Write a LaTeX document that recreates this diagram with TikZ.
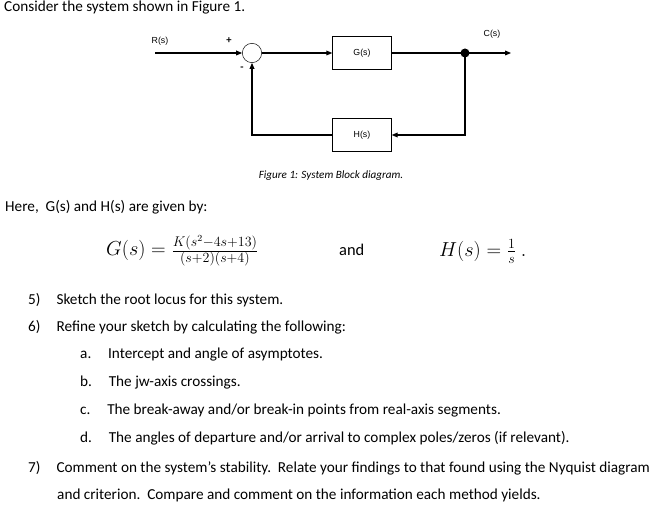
\documentclass[tikz,border=0pt]{standalone}
\usepackage{fontspec}
\setmainfont{Carlito}
\newfontfamily\arialf{Liberation Sans}
\usetikzlibrary{arrows.meta}
\begin{document}
\begin{tikzpicture}[x=0.03cm,y=-0.03cm,
  txt/.style={anchor=west,inner sep=0,font=\fontsize{13}{15}\selectfont},
  blk/.style={draw,minimum width=1.77cm,minimum height=1.0cm,font=\arialf\fontsize{7.5}{8}\selectfont},
  lab/.style={inner sep=0,font=\arialf\fontsize{7.5}{8}\selectfont},
  ar/.style={-{Triangle[length=5pt,width=4pt]},line width=0.9pt},
  ln/.style={line width=0.9pt}]
\useasboundingbox (0,0) rectangle (659,508);
\node[txt] (t0) at (4,8) {Consider the system shown in Figure 1.};
% block diagram
\coordinate (rin) at (155,53);
\node[draw,circle,minimum size=0.58cm,inner sep=0] (sum) at (252,53) {};
\node[blk] (g) at (362,53) {G(s)};
\node[blk,minimum height=1.0cm] (h) at (362,135) {H(s)};
\fill (465,53) circle (4.5) coordinate (dot);
\coordinate (cout) at (511,53);
\node[lab] (r) at (160,41) {R(s)};
\node[lab] (c) at (492,34) {C(s)};
\node[lab,font=\bfseries\small] (plus) at (229,41) {+};
\node[lab,font=\bfseries\small] (minus) at (242,69) {-};
\draw[ar] (rin) -- (sum);
\draw[ar] (sum) -- (g);
\draw[ln] (g) -- (dot);
\draw[ar] (dot) -- (cout);
\draw[ar] (dot) |- (h);
\draw[ar] (h) -| (sum);
\node[inner sep=0,font=\itshape\fontsize{9.5}{10}\selectfont] (cap) at (331,176) {Figure 1: System Block diagram.};
% text
\node[txt] (here) at (5,207) {Here,\ \ G(s) and H(s) are given by:};
\node[anchor=west,inner sep=0,font=\fontsize{17}{20}\selectfont] (geq) at (106,251) {$G(s)=\frac{K(s^2-4s+13)}{(s+2)(s+4)}$};
\node[txt,font=\fontsize{14}{16}\selectfont] (and) at (339,250) {and};
\node[anchor=west,inner sep=0,font=\fontsize{17}{20}\selectfont] (heq) at (439,251) {$H(s)=\frac{1}{s}\ .$};
\node[txt] (i5) at (28,300) {5)\hspace{1.05em}Sketch the root locus for this system.};
\node[txt] (i6) at (28,327) {6)\hspace{1.05em}Refine your sketch by calculating the following:};
\node[txt] (ia) at (80,355) {a.\hspace{1.1em}Intercept and angle of asymptotes.};
\node[txt] (ib) at (80,383) {b.\hspace{1.1em}The jw-axis crossings.};
\node[txt] (ic) at (80,411) {c.\hspace{1.1em}The break-away and/or break-in points from real-axis segments.};
\node[txt] (id) at (80,438) {d.\hspace{1.1em}The angles of departure and/or arrival to complex poles/zeros (if relevant).};
\node[txt] (i7) at (28,468) {7)\hspace{1.05em}Comment on the system’s stability.\ \ Relate your findings to that found using the Nyquist diagram};
\node[txt] (i7b) at (57,495) {and criterion.\ \ Compare and comment on the information each method yields.};
\end{tikzpicture}
\end{document}
